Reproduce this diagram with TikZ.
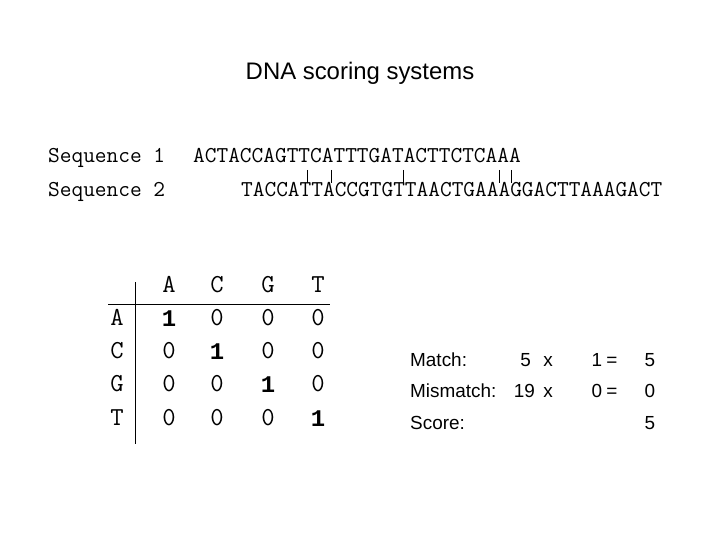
\documentclass[tikz,border=0pt]{standalone}
\usepackage{fontspec}
\setmainfont{Liberation Sans}
\setmonofont{Latin Modern Mono}
\newfontfamily\cour{Liberation Mono}
\begin{document}
\begin{tikzpicture}[x=1bp,y=-1bp,
  seq/.style={font=\ttfamily\fontsize{22.8}{24}\selectfont, inner sep=0pt, text height=0.62em, text depth=0.05em},
  mat/.style={font=\ttfamily\fontsize{26}{28}\selectfont, inner sep=0pt, text height=0.62em, text depth=0.05em},
  matb/.style={font=\cour\bfseries\fontsize{24}{26}\selectfont, inner sep=0pt, text height=0.67em, text depth=0.05em},
  lab/.style={font=\fontsize{19}{21}\selectfont, inner sep=0pt, text height=0.72em, text depth=0.2em},
  ln/.style={line width=1bp, black}]
\useasboundingbox (0,0) rectangle (720,540);
\node[font=\fontsize{24}{26}\selectfont] (title) at (360,73) {DNA scoring systems};
\node[seq, anchor=west] (s1l) at (48,160) {Sequence 1};
\node[seq, anchor=west] (s2l) at (48,194) {Sequence 2};
\node[seq, anchor=west] (s1) at (193,160) {ACTACCAGTTCATTTGATACTTCTCAAA};
\node[seq, anchor=west] (s2) at (241,194) {TACCATTACCGTGTTAACTGAAAGGACTTAAAGACT};
\foreach \i in {9,11,17,25,26}{
  \draw[line width=0.8bp] (193+12*\i+6,170) -- (193+12*\i+6,183);
}
% matrix
\foreach \c/\x in {A/169,C/217,G/268,T/318}{
  \node[mat] (h\c) at (\x,290) {\c};
}
\foreach \r/\y in {A/323,C/356,G/389,T/423}{
  \node[mat] (r\r) at (117,\y) {\r};
}
\foreach \r/\y [count=\ri] in {A/323,C/356,G/389,T/423}{
  \foreach \c/\x [count=\ci] in {A/169,C/217,G/268,T/318}{
    \ifnum\ri=\ci
      \node[matb] (m\r\c) at (\x,\y) {1};
    \else
      \node[mat] (m\r\c) at (\x,\y) {0};
    \fi
  }
}
\draw[ln] (108,304) -- (330,304);
\draw[ln] (135,282) -- (135,444);
% scores
\node[lab, anchor=west] (ma) at (410,364) {Match:};
\node[lab, anchor=east] (ma5) at (531,364) {5};
\node[lab] (max) at (548,364) {x};
\node[lab] (ma1) at (597,364) {1};
\node[lab] (maeq) at (612,364) {=};
\node[lab] (mar) at (650,364) {5};
\node[lab, anchor=west] (mm) at (410,395) {Mismatch:};
\node[lab, anchor=east] (mm19) at (535,395) {19};
\node[lab] (mmx) at (548,395) {x};
\node[lab] (mm0) at (597,395) {0};
\node[lab] (mmeq) at (612,395) {=};
\node[lab] (mmr) at (650,395) {0};
\node[lab, anchor=west] (sc) at (410,427) {Score:};
\node[lab] (scr) at (650,427) {5};
\end{tikzpicture}
\end{document}
